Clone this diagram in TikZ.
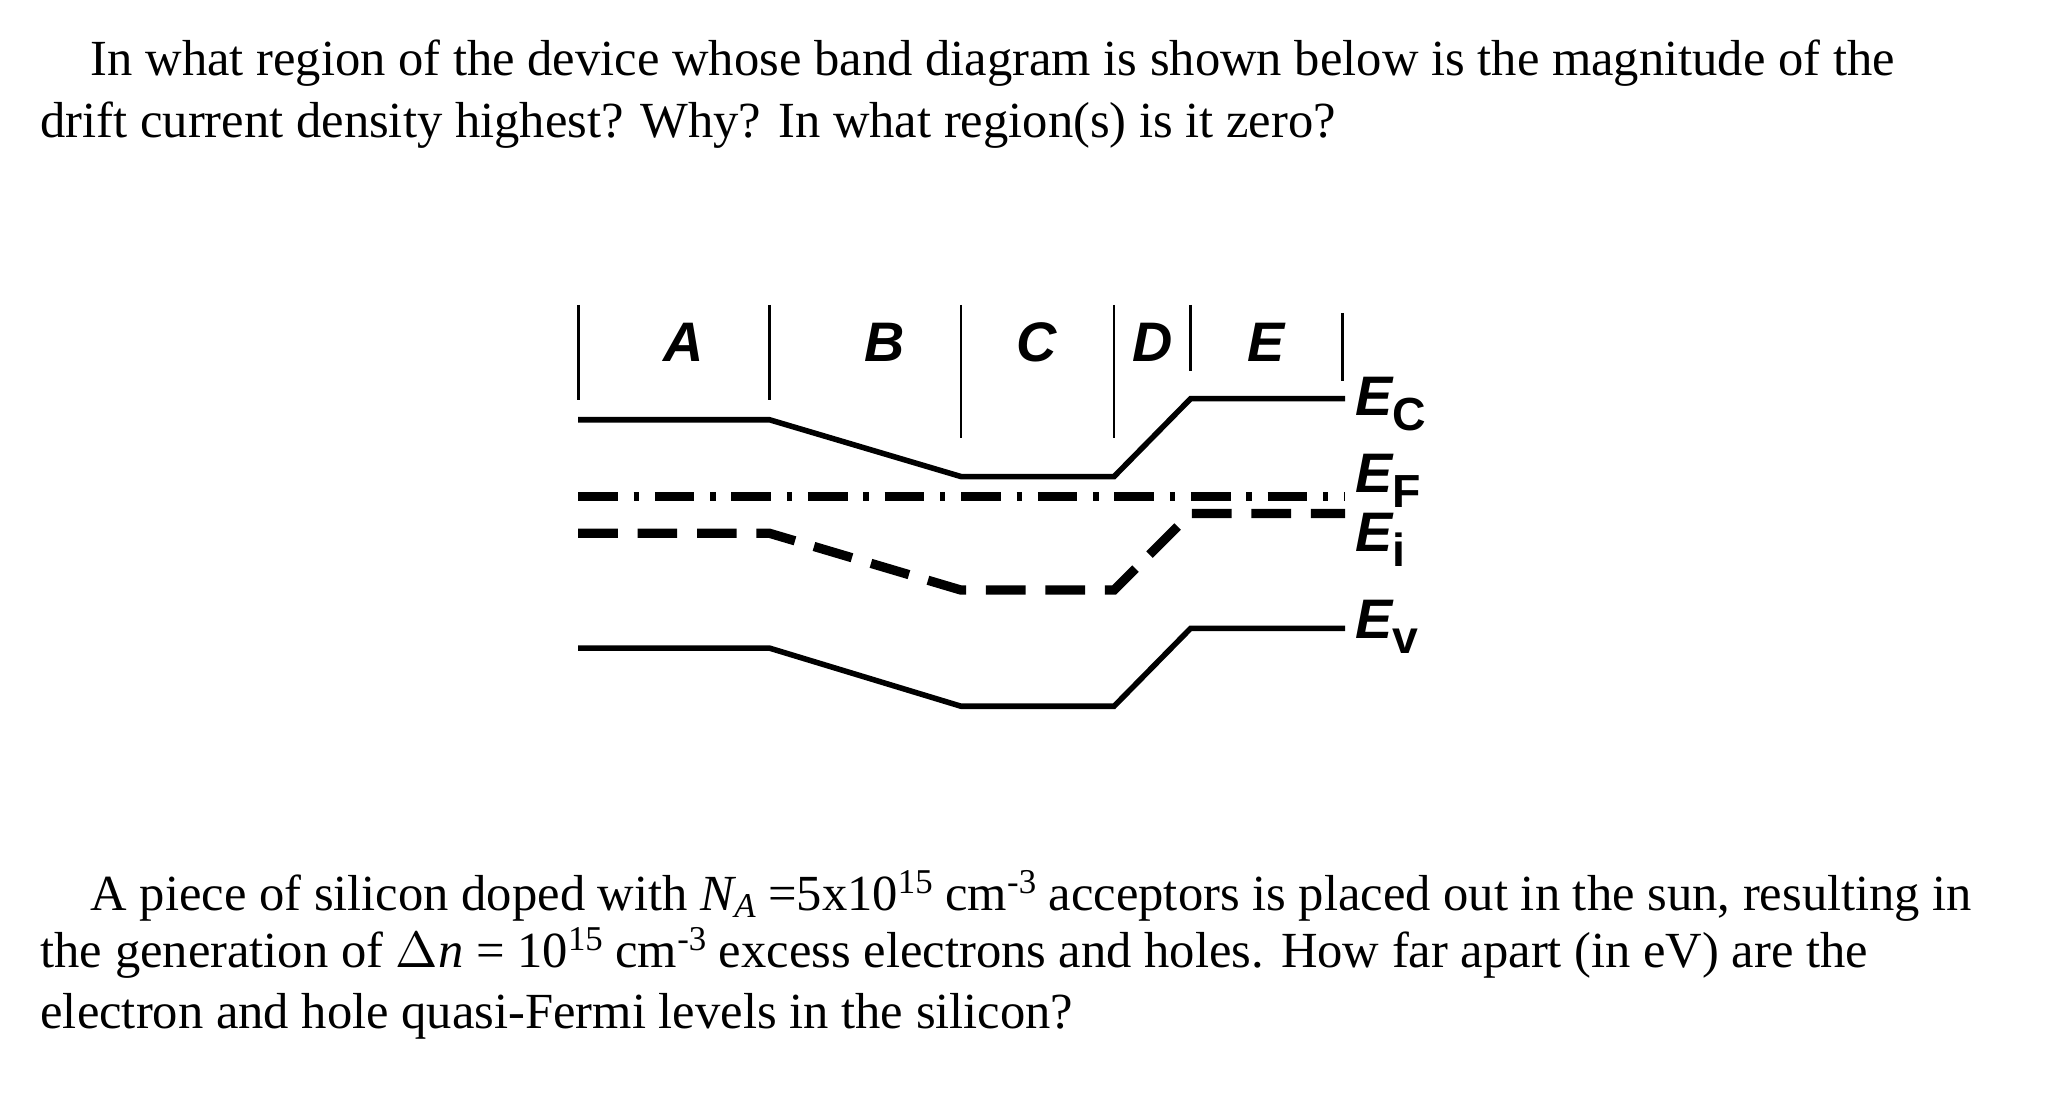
\documentclass[tikz,border=0pt]{standalone}
\usepackage{fontspec}
\setmainfont{Liberation Serif}
\setsansfont{Liberation Sans}
\newcommand{\sups}[1]{\raisebox{0.75ex}{\fontsize{7.5}{8}\selectfont #1}}
\newcommand{\subs}[1]{\raisebox{-0.5ex}{\fontsize{10}{12}\selectfont #1}}
\begin{document}
\begin{tikzpicture}[x=0.01cm,y=-0.01cm,
  txt/.style={anchor=base west,inner sep=0,font=\fontsize{10.9}{13}\selectfont},
  lab/.style={font=\sffamily\bfseries\itshape\fontsize{12}{14}\selectfont,inner sep=0},
  elab/.style={anchor=west,inner sep=0,font=\sffamily\bfseries\fontsize{12}{14}\selectfont},
  sep/.style={line width=0.6pt},
  band/.style={line width=1.2pt},
  ei/.style={line width=2pt,dash pattern=on 0.3cm off 0.15cm},
  ef/.style={line width=2pt,dash pattern=on 0.3cm off 0.12cm on 0.04cm off 0.12cm}]
\useasboundingbox (0,0) rectangle (1550,835);
\node[txt] (t1) at (68,57) {In what region of the device whose band diagram is shown below is the magnitude of the};
\node[txt] (t2) at (30,104) {drift current density highest? Why? In what region(s) is it zero?};
\node[txt] (b1) at (68,690) {A piece of silicon doped with \textit{N\raisebox{-0.3ex}{\fontsize{7.5}{8}\selectfont A}} =5x10\sups{15} cm\sups{-3} acceptors is placed out in the sun, resulting in};
\node[txt] (b2) at (30,733) {the generation of $\Delta$\textit{n} = 10\sups{15} cm\sups{-3} excess electrons and holes. How far apart (in eV) are the};
\node[txt] (b3) at (30,779) {electron and hole quasi-Fermi levels in the silicon?};
% separators
\coordinate (s1t) at (438,231); \coordinate (s1b) at (438,303);
\coordinate (s2t) at (583,231); \coordinate (s2b) at (583,303);
\coordinate (s3t) at (728,231); \coordinate (s3b) at (728,332);
\coordinate (s4t) at (844,231); \coordinate (s4b) at (844,332);
\coordinate (s5t) at (902,231); \coordinate (s5b) at (902,281);
\coordinate (s6t) at (1017,237); \coordinate (s6b) at (1017,289);
\foreach \i in {1,...,6} \draw[sep] (s\i t) -- (s\i b);
\node[lab] (A) at (518,259) {A};
\node[lab] (B) at (670,259) {B};
\node[lab] (C) at (785,259) {C};
\node[lab] (D) at (873,259) {D};
\node[lab] (E) at (959,259) {E};
% bands
\coordinate (c1) at (438,318); \coordinate (c2) at (583,318); \coordinate (c3) at (728,361);
\coordinate (c4) at (844,361); \coordinate (c5) at (902,302); \coordinate (c6) at (1019,302);
\draw[band] (c1)--(c2)--(c3)--(c4)--(c5)--(c6);
\coordinate (v1) at (438,491); \coordinate (v2) at (583,491); \coordinate (v3) at (728,535);
\coordinate (v4) at (844,535); \coordinate (v5) at (902,476); \coordinate (v6) at (1019,476);
\draw[band] (v1)--(v2)--(v3)--(v4)--(v5)--(v6);
\coordinate (f1) at (438,376); \coordinate (f2) at (1019,376);
\draw[ef] (f1)--(f2);
\coordinate (i1) at (438,404); \coordinate (i2) at (583,404); \coordinate (i3) at (728,447);
\coordinate (i4) at (844,447); \coordinate (i5) at (902,389); \coordinate (i6) at (1019,389);
\draw[ei] (i1)--(i2)--(i3)--(i4)--(i5)--(i6);
\node[elab] (Ec) at (1026,306) {\textit{E}\kern-0.3pt\subs{C}};
\node[elab] (Ef) at (1026,364) {\textit{E}\kern-0.3pt\subs{F}};
\node[elab] (Ei) at (1026,409) {\textit{E}\kern-0.3pt\subs{i}};
\node[elab] (Ev) at (1026,475) {\textit{E}\kern-0.3pt\subs{v}};
\end{tikzpicture}
\end{document}
